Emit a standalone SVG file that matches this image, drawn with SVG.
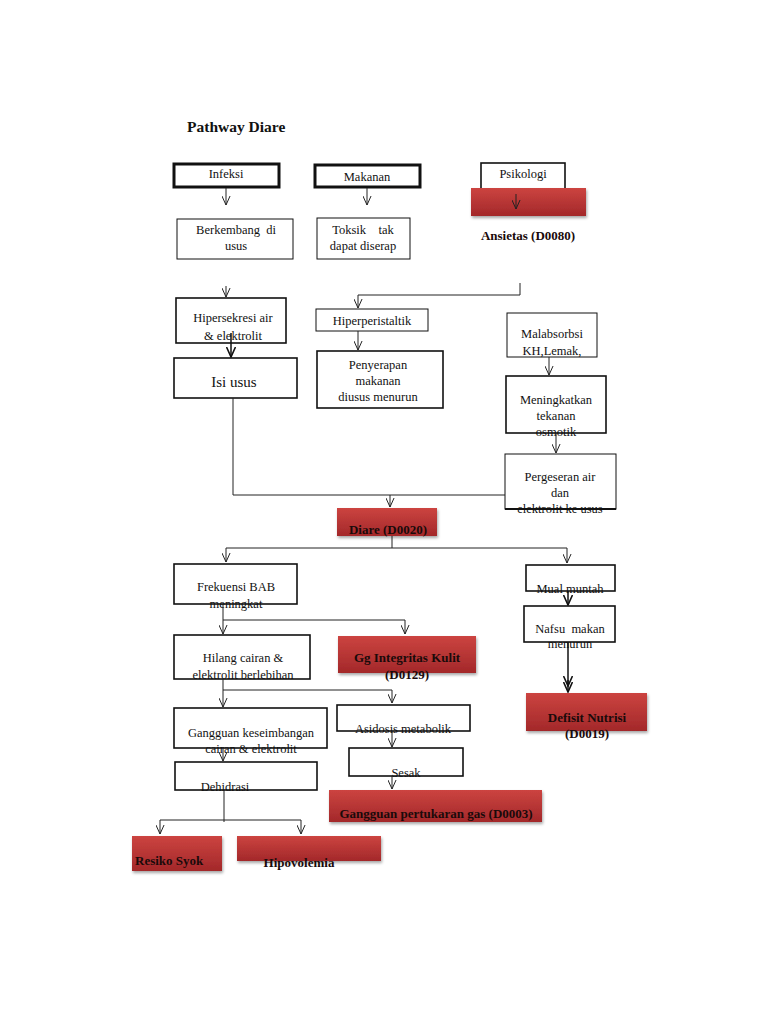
<svg xmlns="http://www.w3.org/2000/svg" width="768" height="1024" viewBox="0 0 768 1024">
<defs>
<linearGradient id="red" x1="0" y1="0" x2="0" y2="1">
<stop offset="0" stop-color="#cc4440"/>
<stop offset="1" stop-color="#a3282a"/>
</linearGradient>
<filter id="sh" x="-10%" y="-20%" width="120%" height="160%">
<feDropShadow dx="1" dy="2" stdDeviation="1.5" flood-color="#000" flood-opacity="0.35"/>
</filter>
<marker id="v" viewBox="0 0 10 10" refX="10" refY="5" markerWidth="10" markerHeight="9" markerUnits="userSpaceOnUse" orient="auto">
<path d="M0,0.5 L10,5 L0,9.5" fill="none" stroke="#222" stroke-width="1.1"/>
</marker>
<marker id="vb" viewBox="0 0 10 10" refX="10" refY="5" markerWidth="11" markerHeight="10" markerUnits="userSpaceOnUse" orient="auto">
<path d="M0,0.5 L10,5 L0,9.5" fill="none" stroke="#111" stroke-width="1.6"/>
</marker>
</defs>
<style>
.b{fill:#fff;stroke:#111;stroke-width:1}
.tk{fill:#fff;stroke:#111;stroke-width:3}
.md{fill:#fff;stroke:#111;stroke-width:1.6}
.r{fill:url(#red);filter:url(#sh)}
.t{font-family:"Liberation Serif","Times New Roman",serif;font-size:12.5px;fill:#111;text-anchor:middle}
.tb{font-family:"Liberation Serif","Times New Roman",serif;font-size:13px;font-weight:bold;fill:#1a0a0a;text-anchor:middle}
.c{fill:none;stroke:#222;stroke-width:1}
.cb{fill:none;stroke:#111;stroke-width:1.5}
</style>
<rect width="768" height="1024" fill="#fff"/>
<text x="187" y="132" font-family="Liberation Serif, Times New Roman, serif" font-size="15.5" font-weight="bold" fill="#111">Pathway Diare</text>

<g id="n-infeksi"><rect class="tk" x="174" y="164" width="105" height="23"/><text class="t" x="226" y="178">Infeksi</text></g>
<g id="n-makanan"><rect class="tk" x="315" y="165" width="105" height="22"/><text class="t" x="367" y="181">Makanan</text></g>
<g id="n-psikologi"><rect class="md" x="481" y="163" width="84" height="26"/><text class="t" x="523" y="178">Psikologi</text></g>
<g id="n-psired"><rect class="r" x="471" y="188" width="115" height="28"/></g>
<g id="n-ansietas"><text class="tb" x="528" y="240">Ansietas (D0080)</text></g>

<g id="n-berkembang"><rect class="b" x="177" y="219" width="116" height="40"/><text class="t" x="236" y="234" xml:space="preserve">Berkembang  di</text><text class="t" x="236" y="250">usus</text></g>
<g id="n-toksik"><rect class="b" x="317" y="218" width="93" height="41"/><text class="t" x="363" y="234" xml:space="preserve">Toksik    tak</text><text class="t" x="363" y="250">dapat diserap</text></g>

<g id="n-hipersekresi"><rect class="md" x="176" y="298" width="110" height="45"/><text class="t" x="233" y="322">Hipersekresi air</text><text class="t" x="233" y="340">&amp; elektrolit</text></g>
<g id="n-isiusus"><rect class="md" x="174" y="358" width="123" height="40"/><text class="t" x="234" y="387" style="font-size:15px">Isi usus</text></g>
<g id="n-hiperperistaltik"><rect class="b" x="316" y="309" width="112" height="22"/><text class="t" x="372" y="325">Hiperperistaltik</text></g>
<g id="n-penyerapan"><rect class="md" x="317" y="351" width="126" height="57"/><text class="t" x="378" y="369">Penyerapan</text><text class="t" x="378" y="385">makanan</text><text class="t" x="378" y="401">diusus menurun</text></g>

<g id="n-malabsorbsi"><rect class="b" x="507" y="313" width="90" height="44"/><text class="t" x="552" y="338">Malabsorbsi</text><text class="t" x="552" y="355">KH,Lemak,</text></g>
<g id="n-meningkatkan"><rect class="md" x="506" y="376" width="100" height="57"/><text class="t" x="556" y="404">Meningkatkan</text><text class="t" x="556" y="420">tekanan</text><text class="t" x="556" y="436">osmotik</text></g>
<g id="n-pergeseran"><rect class="b" x="505" y="454" width="111" height="55"/><line x1="505" y1="509" x2="616" y2="509" stroke="#111" stroke-width="2"/><text class="t" x="560" y="481">Pergeseran air</text><text class="t" x="560" y="497">dan</text><text class="t" x="560" y="513">elektrolit ke usus</text></g>

<g id="n-diare"><rect class="r" x="337" y="508" width="100" height="28"/><text class="tb" x="388" y="534">Diare (D0020)</text></g>

<g id="n-frekuensi"><rect class="md" x="174" y="564" width="123" height="40"/><text class="t" x="236" y="591">Frekuensi BAB</text><text class="t" x="236" y="608">meningkat</text></g>
<g id="n-mual"><rect class="md" x="526" y="565" width="89" height="26"/><text class="t" x="570" y="593">Mual muntah</text></g>
<g id="n-nafsu"><rect class="md" x="524" y="606" width="91" height="36"/><text class="t" x="570" y="633" xml:space="preserve">Nafsu  makan</text><text class="t" x="570" y="648">menurun</text></g>
<g id="n-defisit"><rect class="r" x="526" y="693" width="121" height="38"/><text class="tb" x="587" y="722">Defisit Nutrisi</text><text class="tb" x="587" y="738">(D0019)</text></g>

<g id="n-hilang"><rect class="md" x="174" y="635" width="136" height="44"/><text class="t" x="243" y="662">Hilang cairan &amp;</text><text class="t" x="243" y="679">elektrolit berlebihan</text></g>
<g id="n-integritas"><rect class="r" x="338" y="636" width="138" height="37"/><text class="tb" x="407" y="662">Gg Integritas Kulit</text><text class="tb" x="407" y="679">(D0129)</text></g>

<g id="n-gangguan"><rect class="md" x="174" y="708" width="153" height="40"/><text class="t" x="251" y="737">Gangguan keseimbangan</text><text class="t" x="251" y="753">cairan &amp; elektrolit</text></g>
<g id="n-asidosis"><rect class="md" x="337" y="705" width="133" height="26"/><text class="t" x="403" y="733">Asidosis metabolik</text></g>
<g id="n-sesak"><rect class="md" x="349" y="748" width="114" height="28"/><text class="t" x="406" y="777">Sesak</text></g>
<g id="n-gasred"><rect class="r" x="329" y="790" width="213" height="32"/><text class="tb" x="436" y="818">Gangguan pertukaran gas (D0003)</text></g>
<g id="n-dehidrasi"><rect class="md" x="175" y="762" width="142" height="28"/><text class="t" x="225" y="791">Dehidrasi</text></g>
<g id="n-resiko"><rect class="r" x="132" y="836" width="90" height="35"/><text class="tb" x="135" y="865" style="text-anchor:start">Resiko Syok</text></g>
<g id="n-hipovolemia"><rect class="r" x="237" y="836" width="144" height="25"/><text class="tb" x="299" y="867">Hipovolemia</text></g>

<g id="connectors">
<line class="c" x1="226" y1="188" x2="226" y2="205" marker-end="url(#v)"/>
<line class="c" x1="367" y1="188" x2="367" y2="205" marker-end="url(#v)"/>
<line class="c" x1="516" y1="194" x2="516" y2="209" marker-end="url(#v)"/>
<line class="c" x1="226" y1="286" x2="226" y2="297" marker-end="url(#v)"/>
<line class="cb" x1="231" y1="333" x2="231" y2="357" marker-end="url(#vb)"/>
<polyline class="c" points="520,283 520,295 358,295 358,308" marker-end="url(#v)"/>
<line class="c" x1="358" y1="331" x2="358" y2="350" marker-end="url(#v)"/>
<line class="c" x1="549" y1="357" x2="549" y2="375" marker-end="url(#v)"/>
<line class="c" x1="556" y1="433" x2="556" y2="453" marker-end="url(#v)"/>
<polyline class="c" points="233,398 233,495 505,495"/>
<line class="c" x1="390" y1="495" x2="390" y2="507" marker-end="url(#v)"/>
<line class="c" x1="392" y1="536" x2="392" y2="548"/>
<line class="c" x1="226" y1="548" x2="567" y2="548" stroke="#777"/>
<line class="c" x1="226" y1="548" x2="226" y2="562" marker-end="url(#v)"/>
<line class="c" x1="567" y1="548" x2="567" y2="563" marker-end="url(#v)"/>
<line class="cb" x1="568" y1="591" x2="568" y2="605" marker-end="url(#vb)"/>
<line class="cb" x1="568" y1="642" x2="568" y2="692" marker-end="url(#vb)"/>
<line class="cb" x1="568" y1="680" x2="568" y2="686" marker-end="url(#vb)"/>
<polyline class="c" points="223,604 223,620 405,620"/>
<line class="c" x1="223" y1="620" x2="223" y2="634" marker-end="url(#v)"/>
<line class="c" x1="405" y1="620" x2="405" y2="634" marker-end="url(#v)"/>
<polyline class="c" points="223,679 223,690 392,690"/>
<line class="c" x1="223" y1="690" x2="223" y2="707" marker-end="url(#v)"/>
<line class="c" x1="392" y1="690" x2="392" y2="703" marker-end="url(#v)"/>
<line class="c" x1="392" y1="731" x2="392" y2="747" marker-end="url(#v)"/>
<line class="c" x1="392" y1="776" x2="392" y2="789" marker-end="url(#v)"/>
<line class="c" x1="223" y1="748" x2="223" y2="761" marker-end="url(#v)"/>
<line class="c" x1="224" y1="790" x2="224" y2="822"/>
<line class="c" x1="160" y1="820" x2="301" y2="820"/>
<line class="c" x1="160" y1="820" x2="160" y2="834" marker-end="url(#v)"/>
<line class="c" x1="301" y1="820" x2="301" y2="834" marker-end="url(#v)"/>
</g>
</svg>
